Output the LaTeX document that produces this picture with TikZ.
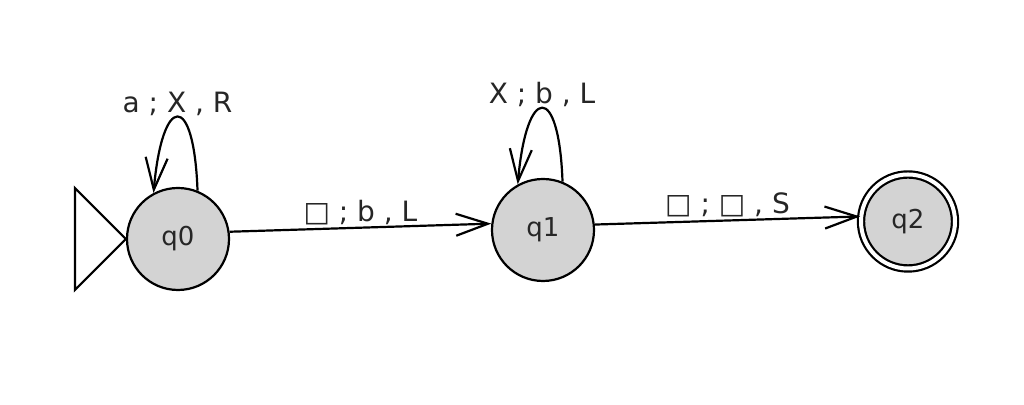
\documentclass[tikz,border=0pt]{standalone}
\usepackage{fontspec}
\setmainfont{DejaVu Sans}
\usepackage{tikz}
\usetikzlibrary{arrows.meta}
\definecolor{stategray}{RGB}{211,211,211}

\begin{document}
\begin{tikzpicture}[->,>={Straight Barb[length=16pt,width=11pt]},auto,node distance=182.5pt,
			line width=1.1pt,main node/.style={circle,fill=stategray,draw,
				font=\fontsize{13}{15}\selectfont,text=black!85,minimum size=51pt,inner sep=0pt},
			final node/.style={main node,double,double distance=2pt,minimum size=47pt}]
			
			\useasboundingbox (0,0) rectangle (512pt,202.5pt);
			
			\node[main node] (q0) at (89pt,83pt) {q0};
			\node[main node] (q1) [right of=q0,yshift=4.5pt] {q1};
			\node[final node] (q2) [right of=q1,yshift=4.25pt] {q2};
			
			% start marker
			\draw[-,line join=miter] (q0.west) -- ++(-25.5pt,25.5pt) -- ++(0,-51pt) -- cycle;
			
			\path[every node/.style={font=\fontsize{14}{16}\selectfont,
				text=black!85,inner sep=1pt}]
			(q0.68) edge [out=92,in=85,distance=50pt] node[above,inner sep=0pt] {a ; X , R} (q0.118)
			(q0.8) edge node {□ ; b , L} (q1.173)
			(q1.68) edge [out=92,in=85,distance=50pt] node[above,inner sep=0pt] {X ; b , L} (q1.119)
			(q1.6) edge node {□ ; □ , S} (q2.174);
		\end{tikzpicture}
\end{document}
